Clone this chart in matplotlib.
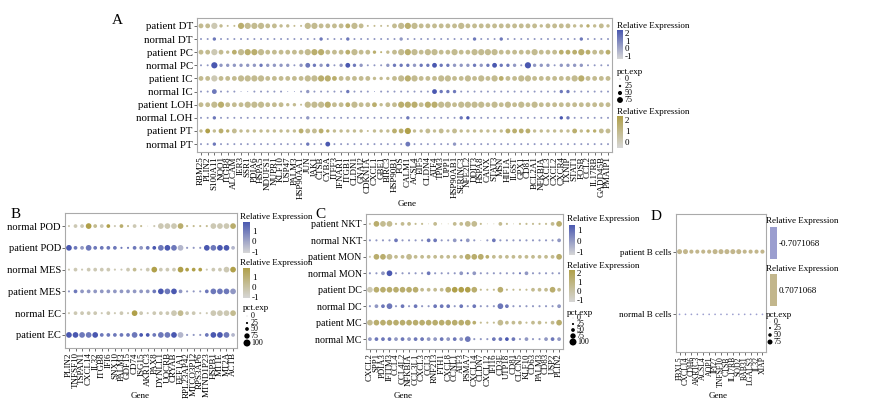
import numpy as np
import matplotlib
matplotlib.use("Agg")
import matplotlib.pyplot as plt
from matplotlib.colors import LinearSegmentedColormap, ListedColormap, Normalize
from matplotlib.cm import ScalarMappable

plt.rcParams['font.family'] = ['Liberation Serif', 'DejaVu Serif']

W, H = 887, 404

# ---------------- data ----------------
# one digit per gene: estimated pct.exp level / relative expression level (0 = low ... 4 = high)
genes_a = ["RBM25", "PLIN2", "S100A11", "NQO1", "ITGB8", "ALCAM", "IER3", "SSR1", "PDIA6", "HSPA5",
           "NDUFS1", "NUPR1", "KLF10", "USP47", "PALM3", "HSP90AA1", "JUN", "JAK1", "CTSB", "CYBA",
           "ITFF3", "IFNAR1", "ITGB1", "CLDN1", "GNAI2", "CDKN1A", "CXCL1", "GBE1", "BIRC3", "HSP90B1",
           "FOS", "CALM1", "ACSL4", "EIF5", "CLDN4", "ATF4", "TPM3", "UPP1", "HSP90AB1", "SERINC3",
           "NFE2L2", "DDIT3", "HSPA8", "CANX", "STAT3", "MSN", "HIF1A", "IL6ST", "GPX1", "CD81",
           "BCL2A1", "NFKBIA", "CXCL3", "CXCL2", "CXCR4", "TXNIP", "STAT1", "FOSB", "CCL2", "IL17RB",
           "GADD45B", "PMAIP1"]
rows_a = ["patient DT", "normal DT", "patient PC", "normal PC", "patient IC",
          "normal IC", "patient LOH", "normal LOH", "patient PT", "normal PT"]
size_a = ["3342114444 3322114433 3334311113 4443333334 3333333333 3233332222 32",
          "1121111111 1111111121 1121111111 2111111111 1211121111 1111111211 11",
          "3343234444 3333334443 3334332123 4443443343 3444433333 4333333433 33",
          "1142222222 2222123222 1232211122 2222232222 2222322214 2221222211 11",
          "3343334444 3333334444 3333332223 4443334433 4343433344 3333334433 33",
          "1131110011 1110012111 1121110111 1111132221 1111111111 1111221111 11",
          "3344333444 3332214444 3334333233 4443444434 4443434343 4333333333 33",
          "1121111111 1111112111 1111111111 1211111112 2111111111 1111221111 11",
          "2323232222 2222233332 2222212223 3422323232 2222223333 2222223222 33",
          "1121111111 1111112113 1111111111 1311111121 1111111111 1111111111 11"]
expr_a = ["2212223222 2222222222 2232222222 2322222222 2222222222 2222222232 22",
          "2232222222 2222222232 2232222222 2222222222 2322232222 2222222322 22",
          "2212232332 2222222332 2232223322 2322222222 2222222222 2222333332 23",
          "2242222223 2222223323 2243222223 3323343322 2323433224 2222222222 22",
          "2212222222 2222222233 3222222222 2322222222 2222232222 2222222322 22",
          "2232222222 2222222222 2232222222 2222243332 2222222222 2222332222 22",
          "2223222222 2222222223 2232223222 3332332222 2222222222 2222222222 22",
          "2232222222 2222222222 2222222222 2322222223 4222222222 2222432222 22",
          "2423322222 2222232233 2222222223 3422222222 2222223333 2222223233 22",
          "2232222222 2222223224 2222222222 2322222222 2222222222 2222222222 22"]

genes_b = ["PLIN2", "TNFSF10", "TSPAN1", "CXCL14", "IL32", "ITGB8", "IFI6", "SNX10", "PALM3", "GDF15",
           "CD74", "ISG15", "AKR1C3", "PAX8", "DYNLL1", "UQCRB", "CRYAB", "EEF1A1", "RPL23AP42",
           "MTCO3P12", "RPS3AP6", "MTND1P23", "HSPB1", "MT1E", "MT2A", "ACTB"]
rows_b = ["normal POD", "patient POD", "normal MES", "patient MES", "normal EC", "patient EC"]
size_b = ["1223222121 2101333311 113333",
          "3223222211 2222333311 133332",
          "1212222112 2123222322 212233",
          "1222222222 2222333211 123333",
          "1222212121 3212223322 113333",
          "3333322222 3222333311 123332"]
expr_b = ["1114214132 1211111322 221113",
          "4323333333 3234343122 243441",
          "1111111111 2114111444 411114",
          "2322222222 2223434222 233332",
          "1111111111 4111111211 111112",
          "4433433333 3443334122 234431"]

genes_c = ["CXCL2", "SPP1", "PDIA3", "IFITM3", "CCL4", "CCL4L2", "NFKBIA", "CCL3L1", "CXCL3", "CCL3",
           "RNF213", "FTH1", "CXCL8", "CCNL1", "ATF3", "PSMA7", "CXCL14", "CLDN7", "CXCL12", "IFI16",
           "CD3E", "UTP18", "CD81", "CLCN5", "KLF10", "CD63", "PALM3", "CD83", "USP2", "PLIN2"]
rows_c = ["patient NKT", "normal NKT", "patient MON", "normal MON",
          "patient DC", "normal DC", "patient MC", "normal MC"]
size_c = ["1333122110 2002233100 2101111123",
          "1111211112 2112121012 1111111112",
          "1333223222 2222233322 2222222223",
          "1123111112 1111212111 1111211111",
          "3333333322 2233333111 3111122232",
          "1223121211 2221212111 3211111112",
          "3333333333 3333332111 3222122123",
          "2222222222 2222231112 2221211222"]
expr_c = ["1322222222 2222222222 2222222223",
          "2222322223 3222322223 2222222222",
          "1332222222 2222233332 2222222223",
          "2224222223 2222232222 2223222222",
          "1333333322 2234443222 3222222232",
          "2233232322 3332323222 3322222222",
          "2333333333 3333333222 2222222223",
          "2333232332 2323232223 3432222232"]

genes_d = ["FBXL5", "CXCL14", "CDH6", "AKR1C3", "ACSL4", "AQP1", "IFI27", "TNFSF10",
           "CTSB", "IL17RB", "SOD2", "RAB31", "LGALS3", "IL32", "XIAP"]
rows_d = ["patient B cells", "normal B cells"]
size_d = ["443333444443333", "111111111111111"]
expr_d = {"patient": 0.7071068, "normal": -0.7071068}

# level -> pct.exp lookups and level -> relative expression lookups
pct_a = [5, 20, 40, 60, 80]
pct_bc = [5, 25, 50, 80, 95]
pct_d = [5, 20, 40, 60, 75]
expr_lv_a = {"blue": [-1.4, -0.45, 0.5, 1.45, 2.4], "tan": [-0.55, 0.18, 0.9, 1.63, 2.36]}
expr_lv_b = {"blue": [-1.1, -0.36, 0.38, 1.11, 1.85], "tan": [-1.1, -0.35, 0.4, 1.15, 1.9]}
expr_lv_c = {"blue": [-1.27, -0.59, 0.09, 0.77, 1.45], "tan": [-1.2, -0.33, 0.55, 1.43, 2.3]}

# ---------------- drawing ----------------
cmaps = {"blue": LinearSegmentedColormap.from_list("blue", ["#d6d6d6", "#4a58b0"]),
         "tan": LinearSegmentedColormap.from_list("tan", ["#d6d6d6", "#b0a04a"])}

fig = plt.figure(figsize=(W / 100, H / 100), dpi=100)


def box(l, t, r, b):
    return [l / W, 1 - b / H, (r - l) / W, (b - t) / H]


def area(d_px):
    return (np.asarray(d_px) * 0.72) ** 2


def style(ax, genes, rows, fs_row, fs_gene):
    ax.set_xlim(-0.6, len(genes) - 0.4)
    ax.set_ylim(-0.6, len(rows) - 0.4)
    ax.set_xticks(range(len(genes)))
    ax.set_xticklabels(genes, rotation=90, fontsize=fs_gene)
    ax.set_yticks(range(len(rows)))
    ax.set_yticklabels(rows[::-1], fontsize=fs_row)
    ax.tick_params(length=2, width=0.5, color='#333333', pad=1)
    for sp in ax.spines.values():
        sp.set_color('#aaaaaa')
        sp.set_linewidth(0.8)


def dot_panel(rect, genes, rows, sizes, exprs, tan_group, pct_lv, expr_lv, diam, fs_row, fs_gene):
    ax = fig.add_axes(box(*rect))
    m = len(rows)
    for i, row in enumerate(rows):
        which = "tan" if row.startswith(tan_group) else "blue"
        lv = expr_lv[which]
        pct = np.array([pct_lv[int(c)] for c in sizes[i].replace(" ", "")])
        val = np.array([lv[int(c)] for c in exprs[i].replace(" ", "")])
        ax.scatter(np.arange(len(pct)), np.full(len(pct), m - 1 - i), s=area(diam(pct)),
                   c=val, cmap=cmaps[which], vmin=lv[0], vmax=lv[-1], linewidths=0)
    style(ax, genes, rows, fs_row, fs_gene)
    return ax


def cbar(rect, cmap, lo, hi, ticks, labels=None, fs=6.5):
    cax = fig.add_axes(box(*rect))
    cb = fig.colorbar(ScalarMappable(Normalize(lo, hi), cmap), cax=cax)
    cb.set_ticks(ticks, labels=labels if labels else [str(t) for t in ticks])
    cb.outline.set_visible(False)
    cax.tick_params(length=0, labelsize=fs, pad=1.5)
    return cb


ov = fig.add_axes([0, 0, 1, 1], zorder=5)
ov.set_xlim(0, W)
ov.set_ylim(H, 0)
ov.set_axis_off()


def title(x, y, s, fs=6.5):
    ov.text(x, y, s, fontsize=fs, ha='left', va='center')


def size_key(x, ys, values, diam, lx, fs=5.8):
    ov.scatter([x] * len(values), ys, s=area(diam(np.array(values))), c='black', linewidths=0)
    for y, v in zip(ys, values):
        ov.text(lx, y, str(v), fontsize=fs, ha='left', va='center')


diam_a = lambda p: 0.6 + 0.07 * p
diam_bc = lambda p: 0.5 + 0.065 * p
diam_d = lambda p: 0.5 + 0.06 * p

# Panel A
dot_panel((197, 18, 612, 152), genes_a, rows_a, size_a, expr_a, "patient", pct_a, expr_lv_a,
          diam_a, 7.8, 6.5)
title(617, 26, "Relative Expression")
cbar((617, 30, 623, 59), cmaps["blue"], -1.4, 2.4, [2, 1, 0, -1])
title(617, 72, "pct.exp")
size_key(620, [79, 86, 93, 100], [0, 25, 50, 75], diam_a, 624.5)
title(617, 112, "Relative Expression")
cbar((617, 116, 623, 148), cmaps["tan"], -0.55, 2.36, [2, 1, 0])
ov.text(407, 204, "Gene", fontsize=6.5, ha='center', va='center')
ov.text(117, 20, "A", fontsize=11, ha='center', va='center')

# Panel B
dot_panel((65, 213, 237, 348), genes_b, rows_b, size_b, expr_b, "normal", pct_bc, expr_lv_b,
          diam_bc, 7.6, 6.5)
title(240, 217, "Relative Expression")
cbar((243, 222, 250, 253), cmaps["blue"], -1.1, 1.85, [1, 0, -1])
title(240, 263, "Relative Expression")
cbar((243, 268, 250, 298), cmaps["tan"], -1.1, 1.9, [1, 0, -1])
title(243, 308, "pct.exp")
size_key(247, [316, 323, 329, 336, 343], [0, 25, 50, 75, 100], diam_bc, 251)
ov.text(140, 396, "Gene", fontsize=6.5, ha='center', va='center')
ov.text(16, 215, "B", fontsize=11, ha='center', va='center')

# Panel C
dot_panel((366, 214, 563, 349), genes_c, rows_c, size_c, expr_c, "patient", pct_bc, expr_lv_c,
          diam_bc, 7.2, 6.3)
title(567, 219, "Relative Expression")
cbar((569, 225, 575, 255), cmaps["blue"], -1.27, 1.45, [1, 0, -1])
title(567, 266, "Relative Expression")
cbar((569, 270, 575, 302), cmaps["tan"], -1.2, 2.3, [2, 1, 0, -1])
title(567, 313, "pct.exp")
size_key(573, [318, 324, 330, 336, 342], [0, 25, 50, 75, 100], diam_bc, 577)
ov.text(403, 396, "Gene", fontsize=6.5, ha='center', va='center')
ov.text(320, 214, "C", fontsize=11, ha='center', va='center')

# Panel D
tan_d = ListedColormap(["#c2b68c"])
blue_d = ListedColormap(["#9b9ecf"])
axd = fig.add_axes(box(676, 214, 766, 352))
for i, row in enumerate(rows_d):
    pct = np.array([pct_d[int(c)] for c in size_d[i]])
    key = row.split()[0]
    v = expr_d[key]
    axd.scatter(np.arange(len(pct)), np.full(len(pct), len(rows_d) - 1 - i), s=area(diam_d(pct)),
                c=np.full(len(pct), v), cmap=tan_d if key == "patient" else blue_d,
                vmin=v - 1, vmax=v + 1, linewidths=0)
style(axd, genes_d, rows_d, 6.5, 5.6)
title(766, 221, "Relative Expression")
cbar((770, 227, 777, 259), blue_d, expr_d["normal"] - 1, expr_d["normal"] + 1,
     [expr_d["normal"]], ["-0.7071068"])
title(766, 269, "Relative Expression")
cbar((770, 274, 777, 306), tan_d, expr_d["patient"] - 1, expr_d["patient"] + 1,
     [expr_d["patient"]], ["0.7071068"])
title(766, 315, "pct.exp")
size_key(770, [322, 328, 335, 342], [0, 25, 50, 75], diam_d, 774)
ov.text(718, 396, "Gene", fontsize=6.5, ha='center', va='center')
ov.text(656, 216, "D", fontsize=11, ha='center', va='center')

fig.savefig("out.png", dpi=100)
